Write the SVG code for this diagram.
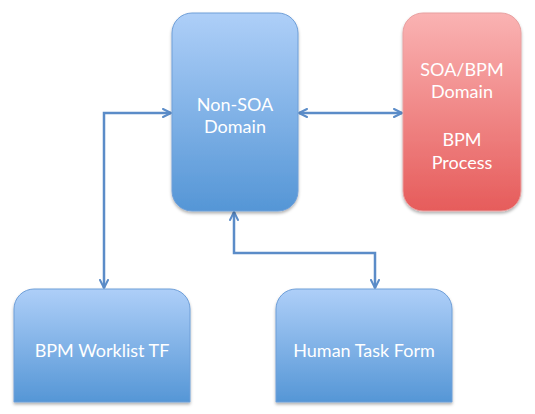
<svg xmlns="http://www.w3.org/2000/svg" width="535" height="414" viewBox="0 0 535 414">
<style>
.lbl{font-family:Lato,"Open Sans","Liberation Sans",sans-serif;font-size:18px;fill:#ffffff;text-anchor:middle}
.blue{fill:url(#gb);stroke:#6f9fd8;stroke-width:1}
.red{fill:url(#gr);stroke:#e8a0a0;stroke-width:1}
.conn{fill:none;stroke:#5b8cc8;stroke-width:2.5;marker-start:url(#ah);marker-end:url(#ah)}
</style>
<defs>
<linearGradient id="gb" x1="0" y1="0" x2="0" y2="1">
<stop offset="0" stop-color="#aecff8"/>
<stop offset="1" stop-color="#5596d6"/>
</linearGradient>
<linearGradient id="gr" x1="0" y1="0" x2="0" y2="1">
<stop offset="0" stop-color="#fab3b3"/>
<stop offset="1" stop-color="#e65c5b"/>
</linearGradient>
<filter id="sh" x="-10%" y="-10%" width="120%" height="120%">
<feDropShadow dx="0" dy="2" stdDeviation="1.5" flood-color="#000" flood-opacity="0.3"/>
</filter>
<marker id="ah" viewBox="0 0 10 10" refX="9" refY="5" markerWidth="4" markerHeight="4" orient="auto-start-reverse" markerUnits="strokeWidth">
<path d="M1 1 L9 5 L1 9" fill="none" stroke="#5b8cc8" stroke-width="2" stroke-linecap="round" stroke-linejoin="round"/>
</marker>
</defs>
<g id="connectors">
<path class="conn" d="M104 288 V113 H171"/>
<path class="conn" d="M299 113 H402"/>
<path class="conn" d="M234 212 V253 H375 V288"/>
</g>
<g id="non-soa">
<rect class="blue" x="172" y="13" width="126" height="198" rx="20" filter="url(#sh)"/>
<text class="lbl" x="235" y="111">Non-SOA</text>
<text class="lbl" x="235" y="133">Domain</text>
</g>
<g id="soa-bpm">
<rect class="red" x="403" y="13" width="118" height="198" rx="20" filter="url(#sh)"/>
<text class="lbl" x="462" y="76">SOA/BPM</text>
<text class="lbl" x="462" y="98">Domain</text>
<text class="lbl" x="462" y="146">BPM</text>
<text class="lbl" x="462" y="169">Process</text>
</g>
<g id="worklist">
<path class="blue" d="M14 402 V309 A20 20 0 0 1 34 289 H170 A20 20 0 0 1 190 309 V402 Z" filter="url(#sh)"/>
<text class="lbl" x="102" y="357">BPM Worklist TF</text>
</g>
<g id="human-task">
<path class="blue" d="M276 402 V309 A20 20 0 0 1 296 289 H432 A20 20 0 0 1 452 309 V402 Z" filter="url(#sh)"/>
<text class="lbl" x="364" y="357">Human Task Form</text>
</g>
</svg>
